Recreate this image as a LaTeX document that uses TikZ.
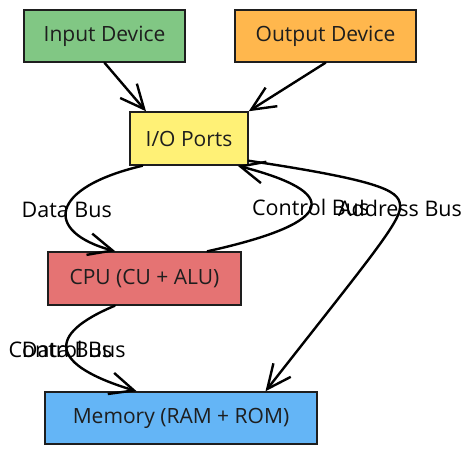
\documentclass[tikz,border=0pt]{standalone}
\usepackage{fontspec}
\setmainfont{Open Sans}
\usepackage{tikz}
\usetikzlibrary{calc}
\usetikzlibrary{arrows.meta}
\usetikzlibrary{positioning}
\definecolor{ingreen}{HTML}{81C784}
\definecolor{outorange}{HTML}{FFB74D}
\definecolor{ioyellow}{HTML}{FFF176}
\definecolor{cpured}{HTML}{E57373}
\definecolor{memblue}{HTML}{64B5F6}
\definecolor{ink}{HTML}{1E1E1E}
\tikzset{unit/.style={rectangle,draw=ink,line width=1.5pt,minimum height=52pt,inner sep=0pt,text=ink,font=\fontsize{21}{25}\selectfont}}
\tikzset{bus/.style={draw=black,line width=2.4pt,line cap=round,line join=round,-{Straight Barb[length=24pt,width=22pt]}}}
\tikzset{lab/.style={inner sep=0pt,text=black,font=\fontsize{21.5}{25}\selectfont}}

\begin{document}
\begin{tikzpicture}[x=1pt,y=-1pt]
\useasboundingbox (0,0) rectangle (470,455);
\node[unit,fill=ingreen,minimum width=161pt] (in) at (104.5,36) {Input Device};
\node[unit,fill=outorange,minimum width=181pt] (out) at (325.5,36) {Output Device};
\node[unit,fill=ioyellow,minimum width=118pt,minimum height=53pt] (io) at (189,138.5) {I/O Ports};
\node[unit,fill=cpured,minimum width=193pt,minimum height=53pt] (cpu) at (144.5,278.5) {CPU (CU + ALU)};
\node[unit,fill=memblue,minimum width=272pt] (mem) at (181,418) {Memory (RAM + ROM)};
% devices to ports
\draw[bus] (in.south) -- ($(io.north west)!0.14!(io.north east)$);
\draw[bus] (out.south) -- (io.north east);
% buses
\draw[bus] ($(io.south west)!0.11!(io.south east)$) .. controls (48,188) and (44,232) .. ($(cpu.north west)!0.35!(cpu.north east)$) node[lab,pos=0.5] {Data Bus};
\draw[bus] ($(cpu.north west)!0.824!(cpu.north east)$) .. controls (340,222) and (340,192) .. ($(io.south west)!0.907!(io.south east)$) node[lab,pos=0.5] {Control Bus};
\draw[bus] ($(io.south east)+(0,-5)$) .. controls (390,182) and (401,192) .. (400,208) node[lab] {Address Bus} .. controls (399,224) and (362,268) .. ($(mem.north west)!0.809!(mem.north east)$);
\draw[bus] ($(cpu.south west)!0.347!(cpu.south east)$) .. controls (45,335) and (50,365) .. ($(mem.north west)!0.338!(mem.north east)$) node[lab,pos=0.5] {Control Bus} node[lab,pos=0.5] {Data Bus};
\end{tikzpicture}
\end{document}
